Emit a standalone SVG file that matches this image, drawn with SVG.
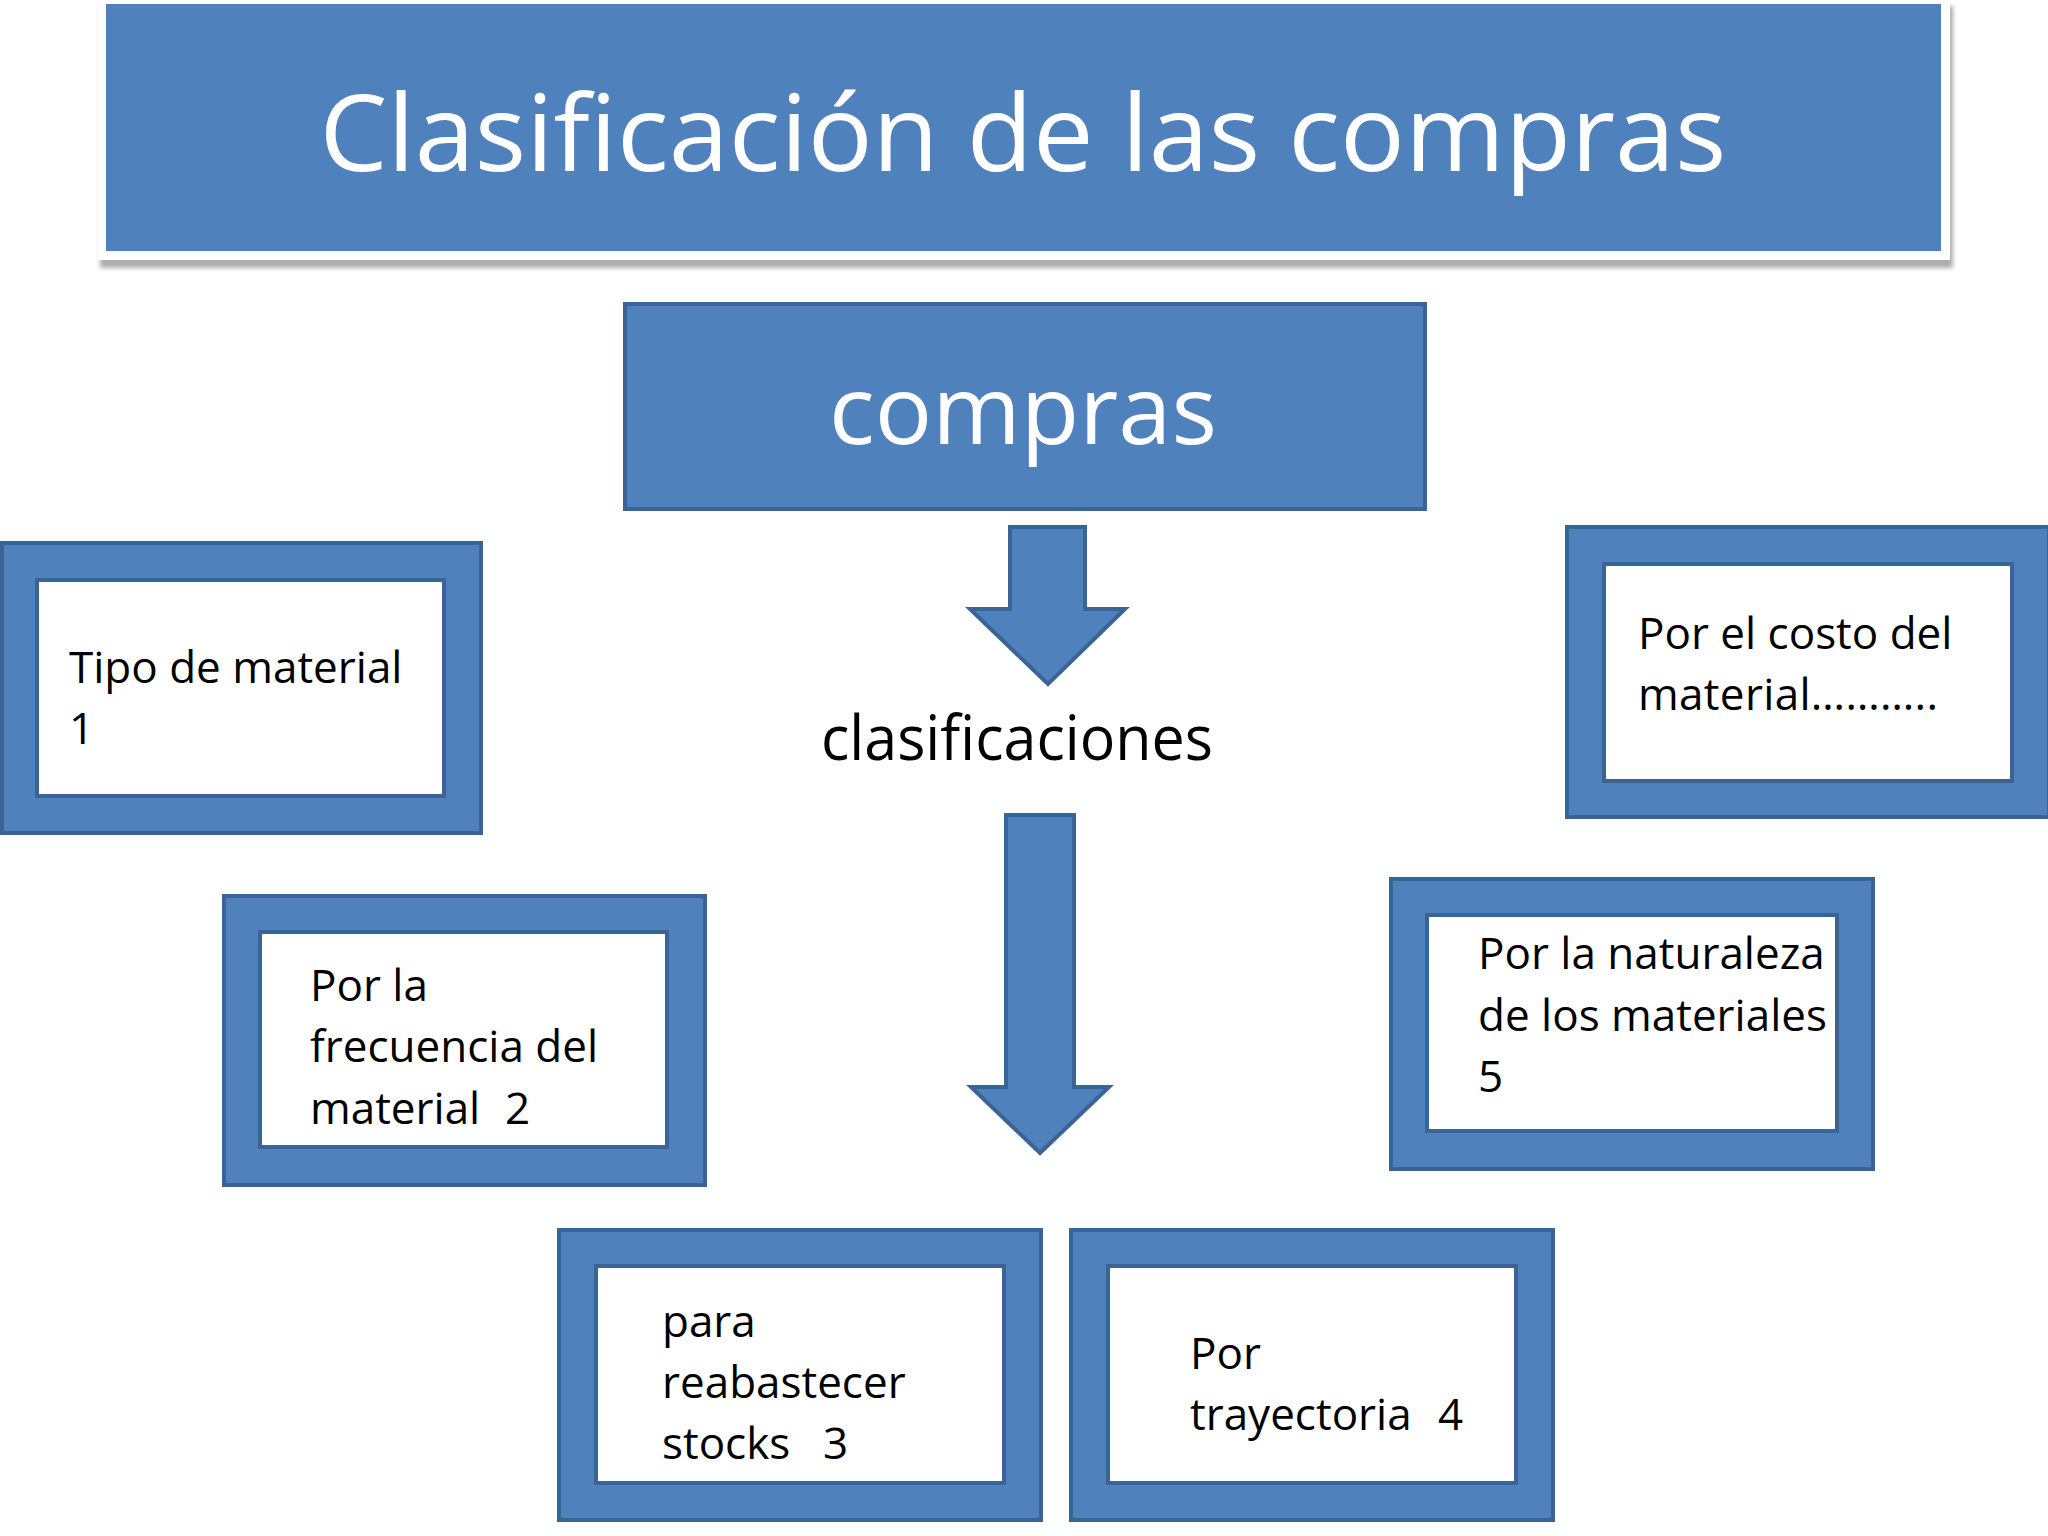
<svg xmlns="http://www.w3.org/2000/svg" width="2048" height="1536" viewBox="0 0 2048 1536">
  <style>
    .frame { fill: #4f81bd; fill-rule: evenodd; stroke: #3b6496; stroke-width: 4; stroke-linejoin: miter; }
    .box { fill: #4f81bd; stroke: #3b6496; stroke-width: 4; }
    .arrow { fill: #4f81bd; stroke: #3b6496; stroke-width: 4; stroke-linejoin: miter; }
    .lbl { font-family: "Open Sans", "Noto Sans", sans-serif; font-size: 44px; fill: #000000; }
    .big { font-family: "Open Sans", "Noto Sans", sans-serif; fill: #ffffff; text-anchor: middle; }
  </style>
  <defs>
    <filter id="shadow" x="-5%" y="-20%" width="110%" height="140%">
      <feGaussianBlur stdDeviation="2"/>
    </filter>
  </defs>
  <rect width="2048" height="1536" fill="#ffffff"/>

  <g id="title">
    <rect x="100" y="6" width="1853" height="262" fill="#9a9a9a" opacity="0.8" filter="url(#shadow)"/>
    <rect x="98" y="-2" width="1852" height="262" fill="#ffffff"/>
    <rect x="106" y="4" width="1835" height="247" fill="#4f81bd"/>
    <text class="big" x="1023" y="171" font-size="107" textLength="1407" lengthAdjust="spacingAndGlyphs">Clasificación de las compras</text>
  </g>

  <g id="compras">
    <rect class="box" x="625" y="304" width="800" height="205"/>
    <text class="big" x="1023" y="444" font-size="95" textLength="388" lengthAdjust="spacingAndGlyphs">compras</text>
  </g>

  <g id="connectors">
    <path class="arrow" d="M1010,527 L1085,527 L1085,609 L1125,609 L1048,684 L970,609 L1010,609 Z"/>
    <path class="arrow" d="M1006,815 L1074,815 L1074,1087 L1109,1087 L1040,1153 L971,1087 L1006,1087 Z"/>
  </g>

  <g id="clasificaciones">
    <text x="1017" y="760" font-family="Open Sans, Noto Sans, sans-serif" font-size="62" fill="#000000" text-anchor="middle" textLength="392" lengthAdjust="spacingAndGlyphs">clasificaciones</text>
  </g>

  <g id="tipo-material">
    <path class="frame" d="M2,543 H481 V833 H2 Z M37,580 V796 H444 V580 Z"/>
    <text class="lbl" x="69" y="683">Tipo de material</text>
    <text class="lbl" x="69" y="744">1</text>
  </g>

  <g id="frecuencia">
    <path class="frame" d="M224,896 H705 V1185 H224 Z M260,932 V1147 H667 V932 Z"/>
    <text class="lbl" x="310" y="1001">Por la</text>
    <text class="lbl" x="310" y="1062">frecuencia del</text>
    <text class="lbl" y="1124"><tspan x="310">material</tspan><tspan x="505">2</tspan></text>
  </g>

  <g id="reabastecer">
    <path class="frame" d="M559,1230 H1041 V1520 H559 Z M596,1266 V1483 H1004 V1266 Z"/>
    <text class="lbl" x="662" y="1337">para</text>
    <text class="lbl" x="662" y="1398">reabastecer</text>
    <text class="lbl" y="1459"><tspan x="662">stocks</tspan><tspan x="823">3</tspan></text>
  </g>

  <g id="trayectoria">
    <path class="frame" d="M1071,1230 H1553 V1520 H1071 Z M1108,1266 V1483 H1516 V1266 Z"/>
    <text class="lbl" x="1190" y="1369">Por</text>
    <text class="lbl" y="1430"><tspan x="1190">trayectoria</tspan><tspan x="1438">4</tspan></text>
  </g>

  <g id="naturaleza">
    <path class="frame" d="M1391,879 H1873 V1169 H1391 Z M1427,915 V1131 H1837 V915 Z"/>
    <text class="lbl" x="1478" y="969">Por la naturaleza</text>
    <text class="lbl" x="1478" y="1031">de los materiales</text>
    <text class="lbl" x="1478" y="1092">5</text>
  </g>

  <g id="costo">
    <path class="frame" d="M1567,527 H2049 V817 H1567 Z M1604,564 V781 H2012 V564 Z"/>
    <text class="lbl" x="1638" y="649">Por el costo del</text>
    <text class="lbl" x="1638" y="710" textLength="300" lengthAdjust="spacing">material………..</text>
  </g>
</svg>
